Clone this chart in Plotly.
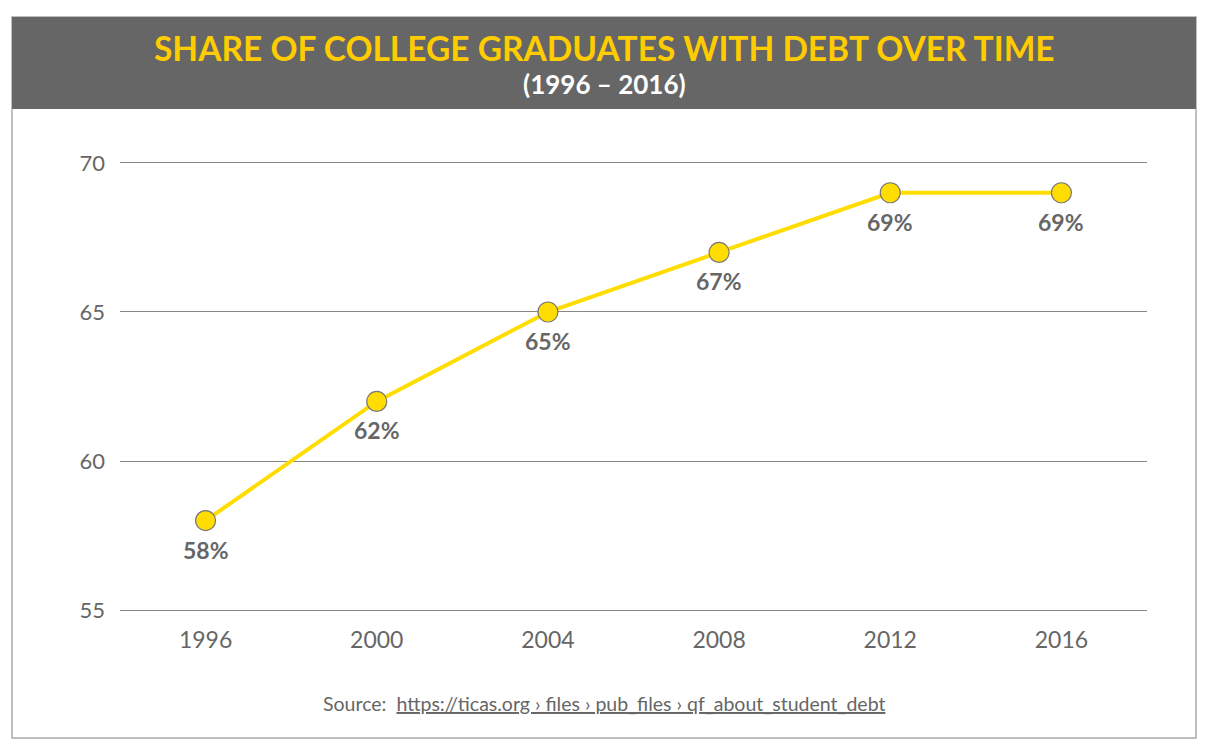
import plotly.graph_objects as go

years = [1996, 2000, 2004, 2008, 2012, 2016]
share = [58, 62, 65, 67, 69, 69]
labels = ["58%", "62%", "65%", "67%", "69%", "69%"]
y_ticks = [55, 60, 65, 70]

W, H = 1209, 752
L, R, T, B = 120, 62, 157, 136
pw, ph = W - L - R, H - T - B

def px(x):
    return (x - L) / pw

def py(y):
    return (H - B - y) / ph

FONT = "Lato"
fig = go.Figure()
fig.add_trace(go.Scatter(
    x=years, y=share, mode="lines+markers",
    line=dict(color="#FFDD00", width=4),
    marker=dict(size=20, color="#FFDD00", line=dict(color="#777777", width=1.2)),
    cliponaxis=False, showlegend=False, hoverinfo="skip",
))

shapes = [
    dict(type="rect", xref="paper", yref="paper", x0=px(12), x1=px(1196), y0=py(738), y1=py(17),
         line=dict(color="#AAAAAA", width=1.5), fillcolor="rgba(0,0,0,0)", layer="below"),
    dict(type="rect", xref="paper", yref="paper", x0=px(12), x1=px(1196), y0=py(109), y1=py(17),
         line=dict(width=0), fillcolor="#666666", layer="below"),
]

annotations = [
    dict(text="<b>SHARE OF COLLEGE GRADUATES WITH DEBT OVER TIME</b>", xref="paper", yref="paper",
         x=px(604), y=py(48), showarrow=False, xanchor="center", yanchor="middle",
         font=dict(family=FONT, size=33.5, color="#FFCC00")),
    dict(text="<b>(1996 – 2016)</b>", xref="paper", yref="paper",
         x=px(604), y=py(84), showarrow=False, xanchor="center", yanchor="middle",
         font=dict(family=FONT, size=26, color="#FFFFFF")),
    dict(text='Source:  <span style="text-decoration:underline">https://ticas.org › files › pub_files › qf_about_student_debt</span>',
         xref="paper", yref="paper", x=px(604), y=py(703), showarrow=False,
         xanchor="center", yanchor="middle",
         font=dict(family=FONT, size=19.5, color="#666666")),
]

for xv, yv, lab in zip(years, share, labels):
    annotations.append(dict(
        x=xv, y=yv, xref="x", yref="y", text="<b>" + lab + "</b>", showarrow=False,
        xanchor="center", yanchor="middle", yshift=-29,
        font=dict(family=FONT, size=23, color="#666666")))

fig.update_layout(
    width=W, height=H, margin=dict(l=L, r=R, t=T, b=B),
    paper_bgcolor="white", plot_bgcolor="white",
    shapes=shapes, annotations=annotations,
    xaxis=dict(range=[1994, 2018], tickvals=years, ticktext=[str(y) for y in years],
               showgrid=False, zeroline=False, showline=False, ticks="", ticklabelstandoff=8,
               tickfont=dict(family=FONT, size=23, color="#666666")),
    yaxis=dict(range=[54.8, 70.2], tickvals=y_ticks, showgrid=True, gridcolor="#888888",
               gridwidth=1.2, zeroline=False, showline=False, ticks="", ticklabelstandoff=14,
               tickfont=dict(family=FONT, size=22, color="#666666")),
)
fig.write_html("out.html")
